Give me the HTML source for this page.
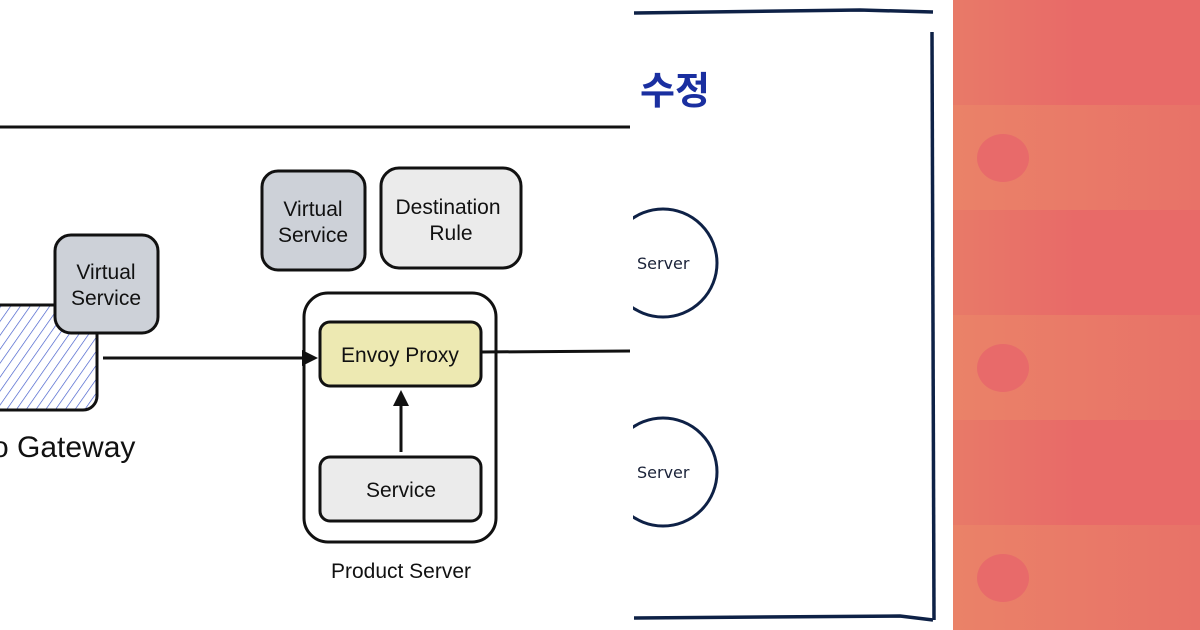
<!DOCTYPE html>
<html><head><meta charset="utf-8"><style>
html,body{margin:0;padding:0;background:#fff;}
body{width:1200px;height:630px;overflow:hidden;position:relative;}
svg text{font-family:"Liberation Sans",Arial,sans-serif;}
</style></head><body>
<svg width="1200" height="630" viewBox="0 0 1200 630" xmlns="http://www.w3.org/2000/svg" style="position:absolute;left:0;top:0" font-family="Liberation Sans, Arial, sans-serif">
<defs>
<pattern id="hatch" width="8" height="8" patternUnits="userSpaceOnUse" patternTransform="rotate(35)">
<line x1="0" y1="0" x2="0" y2="8" stroke="#3b55c9" stroke-width="1.3"/>
</pattern>
<linearGradient id="sal" x1="0" x2="1" y1="0" y2="0">
<stop offset="0" stop-color="#e87a68"/><stop offset="0.5" stop-color="#e86a68"/><stop offset="1" stop-color="#e86a68"/>
</linearGradient>
<linearGradient id="sal2" x1="0" x2="1" y1="0" y2="0">
<stop offset="0" stop-color="#ea8268"/><stop offset="1" stop-color="#e87268"/>
</linearGradient>
</defs>
<rect x="953" y="0" width="247" height="630" fill="url(#sal)"/>
<rect x="953" y="105" width="247" height="105" fill="url(#sal2)"/>
<rect x="953" y="315" width="247" height="105" fill="url(#sal2)"/>
<rect x="953" y="525" width="247" height="105" fill="url(#sal2)"/>
<ellipse cx="1003" cy="158" rx="26" ry="24" fill="#e86a6a"/>
<ellipse cx="1003" cy="368" rx="26" ry="24" fill="#e86a6a"/>
<ellipse cx="1003" cy="578" rx="26" ry="24" fill="#e86a6a"/>
<path d="M634 13 L860 10 L933 12" stroke="#0e2146" stroke-width="3.5" fill="none"/>
<path d="M932 32 L934 620" stroke="#0e2146" stroke-width="3.5" fill="none"/>
<path d="M634 618 L900 616 L933 620" stroke="#0e2146" stroke-width="3.5" fill="none"/>
<text x="640" y="104" style="font-family:'Noto Sans CJK KR',sans-serif" font-weight="700" font-size="38" fill="#1a2fa0">수정</text>
<clipPath id="cl"><rect x="633" y="0" width="300" height="630"/></clipPath>
<g clip-path="url(#cl)">
<circle cx="663" cy="263" r="54" fill="none" stroke="#0e2146" stroke-width="3"/>
<circle cx="663" cy="472" r="54" fill="none" stroke="#0e2146" stroke-width="3"/>
</g>
<text x="637" y="269" font-size="16" fill="#1a2238" style="font-family:'DejaVu Sans',sans-serif">Server</text>
<text x="637" y="478" font-size="16" fill="#1a2238" style="font-family:'DejaVu Sans',sans-serif">Server</text>
<line x1="0" y1="127" x2="630" y2="127" stroke="#111" stroke-width="3"/>
<rect x="-20" y="305" width="117" height="105" rx="14" fill="url(#hatch)" stroke="#111" stroke-width="3"/>
<rect x="55" y="235" width="103" height="98" rx="16" fill="#cdd1d8" stroke="#111" stroke-width="3"/>
<text x="106" y="279" text-anchor="middle" font-size="21" fill="#111">Virtual</text>
<text x="106" y="305" text-anchor="middle" font-size="21" fill="#111">Service</text>
<rect x="262" y="171" width="103" height="99" rx="16" fill="#cdd1d8" stroke="#111" stroke-width="3"/>
<text x="313" y="216" text-anchor="middle" font-size="21" fill="#111">Virtual</text>
<text x="313" y="242" text-anchor="middle" font-size="21" fill="#111">Service</text>
<rect x="381" y="168" width="140" height="100" rx="18" fill="#ebebeb" stroke="#111" stroke-width="3"/>
<text x="448" y="214" text-anchor="middle" font-size="21" fill="#111">Destination</text>
<text x="451" y="240" text-anchor="middle" font-size="21" fill="#111">Rule</text>
<rect x="304" y="293" width="192" height="249" rx="24" fill="#fff" stroke="#111" stroke-width="3"/>
<rect x="320" y="322" width="161" height="64" rx="10" fill="#ede9b2" stroke="#111" stroke-width="3"/>
<text x="400" y="362" text-anchor="middle" font-size="21" fill="#111">Envoy Proxy</text>
<rect x="320" y="457" width="161" height="64" rx="10" fill="#ebebeb" stroke="#111" stroke-width="3"/>
<text x="401" y="497" text-anchor="middle" font-size="21" fill="#111">Service</text>
<line x1="103" y1="358" x2="305" y2="358" stroke="#111" stroke-width="3"/>
<polygon points="318,358 302,350 302,366" fill="#111"/>
<line x1="481" y1="352" x2="630" y2="351" stroke="#111" stroke-width="3"/>
<line x1="401" y1="452" x2="401" y2="402" stroke="#111" stroke-width="3"/>
<polygon points="401,390 393,406 409,406" fill="#111"/>
<text x="401" y="578" text-anchor="middle" font-size="21" fill="#111">Product Server</text>
<text x="-8" y="457" font-size="30" fill="#111">o Gateway</text>
</svg>
</body></html>
